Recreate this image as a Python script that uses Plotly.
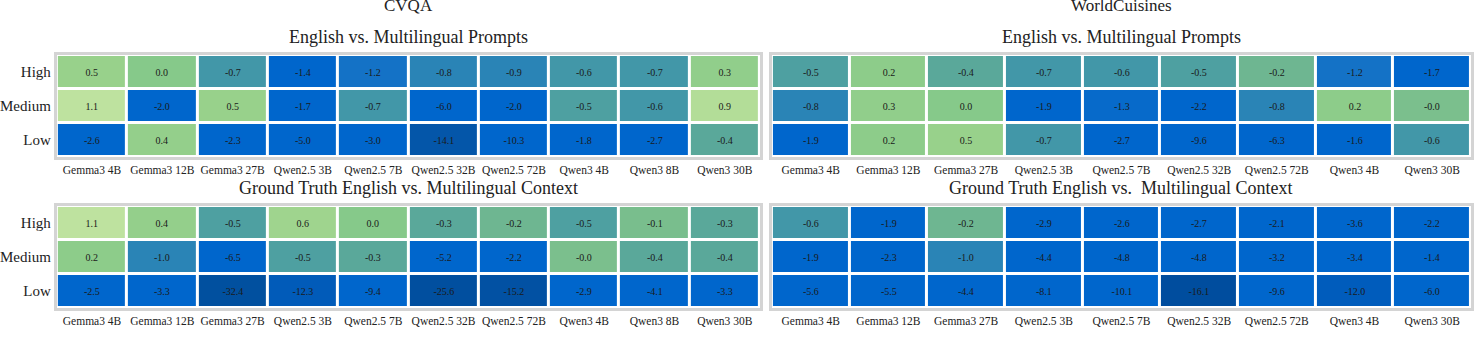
import plotly.graph_objects as go

rows = ["High", "Medium", "Low"]

cvqa_models = ["Gemma3 4B", "Gemma3 12B", "Gemma3 27B", "Qwen2.5 3B", "Qwen2.5 7B",
               "Qwen2.5 32B", "Qwen2.5 72B", "Qwen3 4B", "Qwen3 8B", "Qwen3 30B"]
wc_models = ["Gemma3 4B", "Gemma3 12B", "Gemma3 27B", "Qwen2.5 3B", "Qwen2.5 7B",
             "Qwen2.5 32B", "Qwen2.5 72B", "Qwen3 4B", "Qwen3 30B"]

cvqa_prompts_high = [0.5, 0.0, -0.7, -1.4, -1.2, -0.8, -0.9, -0.6, -0.7, 0.3]
cvqa_prompts_medium = [1.1, -2.0, 0.5, -1.7, -0.7, -6.0, -2.0, -0.5, -0.6, 0.9]
cvqa_prompts_low = [-2.6, 0.4, -2.3, -5.0, -3.0, -14.1, -10.3, -1.8, -2.7, -0.4]

cvqa_context_high = [1.1, 0.4, -0.5, 0.6, 0.0, -0.3, -0.2, -0.5, -0.1, -0.3]
cvqa_context_medium = [0.2, -1.0, -6.5, -0.5, -0.3, -5.2, -2.2, -0.04, -0.4, -0.4]
cvqa_context_low = [-2.5, -3.3, -32.4, -12.3, -9.4, -25.6, -15.2, -2.9, -4.1, -3.3]

wc_prompts_high = [-0.5, 0.2, -0.4, -0.7, -0.6, -0.5, -0.2, -1.2, -1.7]
wc_prompts_medium = [-0.8, 0.3, 0.0, -1.9, -1.3, -2.2, -0.8, 0.2, -0.04]
wc_prompts_low = [-1.9, 0.2, 0.5, -0.7, -2.7, -9.6, -6.3, -1.6, -0.6]

wc_context_high = [-0.6, -1.9, -0.2, -2.9, -2.6, -2.7, -2.1, -3.6, -2.2]
wc_context_medium = [-1.9, -2.3, -1.0, -4.4, -4.8, -4.8, -3.2, -3.4, -1.4]
wc_context_low = [-5.6, -5.5, -4.4, -8.1, -10.1, -16.1, -9.6, -12.0, -6.0]

dataset_titles = ["CVQA", "WorldCuisines"]
panel_titles = ["English vs. Multilingual Prompts", "English vs. Multilingual Prompts",
                "Ground Truth English vs. Multilingual Context",
                "Ground Truth English vs.  Multilingual Context"]

ZMIN, ZMAX = -33.0, 1.2
stops = [
    (-33.0, "#01509f"), (-16.0, "#004d9e"), (-14.0, "#0456aa"), (-12.0, "#005cbc"),
    (-10.5, "#0066cc"), (-1.35, "#0066cc"), (-1.2, "#1472c6"), (-1.05, "#2a84b6"),
    (-0.8, "#2a84b6"), (-0.75, "#4297a8"), (-0.55, "#4297a8"), (-0.45, "#5aa89a"),
    (-0.3, "#5aa89a"), (-0.15, "#78bd8d"), (-0.02, "#7bbf8d"), (0.0, "#86c98a"),
    (0.5, "#98d18b"), (0.9, "#b3dd98"), (1.2, "#c4e5a2"),
]
colorscale = [[(v - ZMIN) / (ZMAX - ZMIN), c] for v, c in stops]

FONT = "Liberation Serif"
W, H = 1474, 359

def px_x(p):
    return p / W

def px_y(p):
    return 1 - p / H

panels = [
    (cvqa_models, [cvqa_prompts_high, cvqa_prompts_medium, cvqa_prompts_low], (54, 759), (55, 157), True),
    (wc_models, [wc_prompts_high, wc_prompts_medium, wc_prompts_low], (771, 1472), (55, 157), False),
    (cvqa_models, [cvqa_context_high, cvqa_context_medium, cvqa_context_low], (54, 759), (206, 308), True),
    (wc_models, [wc_context_high, wc_context_medium, wc_context_low], (771, 1472), (206, 308), False),
]

fig = go.Figure()
layout = {}
for i, (models, z, (x0, x1), (y0, y1), show_y) in enumerate(panels):
    k = "" if i == 0 else str(i + 1)
    text = [[f"{v:.1f}" for v in row] for row in z]
    fig.add_trace(go.Heatmap(
        z=z, x=models, y=rows, text=text, texttemplate="%{text}",
        textfont=dict(family=FONT, size=10, color="#1a1a1a"),
        colorscale=colorscale, zmin=ZMIN, zmax=ZMAX, showscale=False,
        xgap=3, ygap=3, xaxis="x" + k, yaxis="y" + k, hoverinfo="skip",
    ))
    layout["xaxis" + k] = dict(
        domain=[px_x(x0), px_x(x1)], anchor="y" + k, showgrid=False, zeroline=False,
        ticks="", showline=True, mirror=True, linecolor="#d4d4d4", linewidth=3,
        tickangle=0, tickfont=dict(family=FONT, size=11.5, color="#222"), type="category",
    )
    layout["yaxis" + k] = dict(
        domain=[px_y(y1), px_y(y0)], anchor="x" + k, showgrid=False, zeroline=False,
        ticks="", showline=True, mirror=True, linecolor="#d4d4d4", linewidth=3,
        autorange="reversed", showticklabels=show_y, type="category",
        tickfont=dict(family=FONT, size=15, color="#222"),
    )
    fig.add_annotation(
        text=panel_titles[i], x=px_x((x0 + x1) / 2), y=px_y(y0 - 18), xref="paper", yref="paper",
        showarrow=False, yanchor="middle", xanchor="center",
        font=dict(family=FONT, size=18, color="#222"),
    )

for j, t in enumerate(dataset_titles):
    x0, x1 = panels[j][2]
    fig.add_annotation(
        text=t, x=px_x((x0 + x1) / 2), y=px_y(5), xref="paper", yref="paper",
        showarrow=False, yanchor="middle", xanchor="center",
        font=dict(family=FONT, size=17, color="#222"),
    )

fig.update_layout(
    width=W, height=H, margin=dict(l=0, r=0, t=0, b=0),
    plot_bgcolor="white", paper_bgcolor="white", **layout,
)

fig.write_html("out.html", config={"displayModeBar": False},
               post_script="document.body.style.margin='0';")
